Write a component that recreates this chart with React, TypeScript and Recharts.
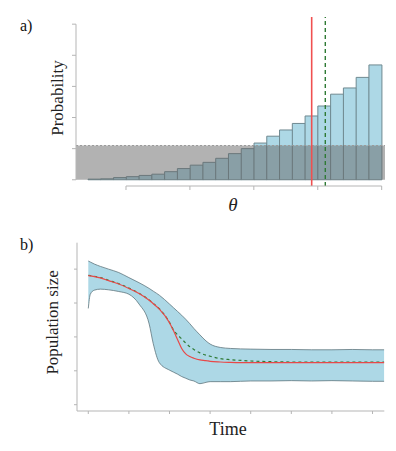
import React from 'react';
import {
  ComposedChart,
  Bar,
  Area,
  Line,
  XAxis,
  YAxis,
  ReferenceLine,
} from 'recharts';

// panel a: posterior histogram of theta
const BINS = ['1', '2', '3', '4', '5', '6', '7', '8', '9', '10', '11', '12', '13', '14', '15', '16', '17', '18', '19', '20', '21', '22', '23'];
const BIN_THETA = [-0.5, -0.3, -0.1, 0.1, 0.3, 0.5, 0.7, 0.9, 1.1, 1.3, 1.5, 1.7, 1.9, 2.1, 2.3, 2.5, 2.7, 2.9, 3.1, 3.3, 3.5, 3.7, 3.9];
const PROB = [0.02, 0.03, 0.07, 0.1, 0.14, 0.18, 0.26, 0.36, 0.47, 0.56, 0.69, 0.84, 1.0, 1.18, 1.4, 1.6, 1.81, 2.05, 2.37, 2.75, 2.95, 3.29, 3.69];
const PRIOR_LEVEL = 1.1;
const THETA_TRUE = 2.905;
const THETA_MEAN = 3.118;
const THETA_TICKS = [0, 1, 2, 3, 4];
const PROB_TICKS = [0, 1, 2, 3, 4, 5];

// panel b: population trajectory
const TIME = [0, 0.05, 0.15, 0.3, 0.5, 0.75, 1.0, 1.25, 1.5, 1.6, 1.75, 2.0, 2.1, 2.2, 2.3, 2.4, 2.5, 2.6, 2.75, 2.9, 3.0, 3.25, 3.5, 4.0, 4.5, 5.0, 5.5, 6.0, 6.5, 7.0, 7.29];
const UPPER = [4.24, 4.21, 4.15, 4.08, 4.0, 3.9, 3.75, 3.6, 3.43, 3.35, 3.23, 2.97, 2.86, 2.75, 2.64, 2.52, 2.39, 2.25, 2.06, 1.88, 1.79, 1.69, 1.66, 1.64, 1.63, 1.63, 1.62, 1.62, 1.63, 1.62, 1.62];
const LOWER = [2.84, 3.26, 3.38, 3.41, 3.39, 3.34, 3.26, 2.97, 2.38, 1.8, 1.24, 1.02, 0.96, 0.9, 0.83, 0.78, 0.73, 0.7, 0.62, 0.66, 0.68, 0.68, 0.68, 0.7, 0.7, 0.71, 0.7, 0.71, 0.7, 0.69, 0.69];
const TRUE_POP = [3.81, 3.8, 3.78, 3.74, 3.66, 3.56, 3.43, 3.28, 3.08, 2.98, 2.82, 2.42, 2.18, 1.92, 1.66, 1.5, 1.42, 1.37, 1.32, 1.3, 1.28, 1.26, 1.25, 1.24, 1.24, 1.24, 1.24, 1.24, 1.24, 1.24, 1.24];
const MEAN_POP = [3.82, 3.81, 3.79, 3.75, 3.67, 3.57, 3.44, 3.29, 3.09, 2.99, 2.83, 2.43, 2.2, 2.06, 1.94, 1.82, 1.71, 1.63, 1.53, 1.46, 1.43, 1.36, 1.33, 1.29, 1.27, 1.26, 1.26, 1.26, 1.26, 1.26, 1.26];
const TIME_TICKS = [0, 1, 2, 3, 4, 5, 6, 7];
const POP_TICKS = [0, 1, 2, 3, 4];

const FONT = '"Liberation Serif", "Times New Roman", serif';
const AXIS = '#b5b5b5';
const THETA_DOMAIN = [-0.782, 4.052];

const histData = BINS.map((b, i) => ({ bin: b, theta: BIN_THETA[i], p: PROB[i] }));
// prior band drawn over the histogram, across the whole theta range
const priorData = THETA_DOMAIN.map((th) => ({ theta: th, prior: PRIOR_LEVEL }));
const popData = TIME.map((t, i) => ({
  t,
  band: [LOWER[i], UPPER[i]],
  truth: TRUE_POP[i],
  mean: MEAN_POP[i],
}));

const noLabel = () => <g />;

const panelLabel: React.CSSProperties = {
  position: 'absolute',
  left: 20,
  fontFamily: FONT,
  fontSize: 16,
  lineHeight: '16px',
  color: '#111',
};

export default function App() {
  return (
    <div style={{ position: 'absolute', left: 0, top: 0, width: 396, height: 451, background: '#fff' }}>
      <div style={{ ...panelLabel, top: 18 }}>a)</div>
      <div style={{ ...panelLabel, top: 237 }}>b)</div>

      <div style={{ position: 'absolute', left: 0, top: 0 }}>
        <ComposedChart width={396} height={220} data={histData} barCategoryGap={0}
          margin={{ top: 17, right: 11, bottom: 0, left: 0 }}>
          <XAxis
            xAxisId="theta"
            dataKey="theta"
            type="number"
            domain={THETA_DOMAIN}
            ticks={THETA_TICKS}
            allowDataOverflow
            height={34}
            tick={noLabel}
            tickSize={4}
            tickLine={{ stroke: AXIS }}
            axisLine={{ stroke: AXIS, strokeDasharray: '0 50 255.7 40' }}
            label={{ value: 'θ', position: 'insideBottom', offset: 9, dx: 2.5, fontFamily: FONT, fontSize: 19, fontStyle: 'italic', fill: '#222' }}
          />
          <XAxis xAxisId="bars" dataKey="bin" type="category" hide height={0} padding={{ left: 12, right: 3.3 }} />
          <YAxis
            type="number"
            domain={[-0.2, 5.23]}
            ticks={PROB_TICKS}
            allowDataOverflow
            width={76}
            tick={noLabel}
            tickSize={4}
            tickLine={{ stroke: AXIS }}
            axisLine={{ stroke: AXIS, strokeDasharray: '0 7.2 155.5 40' }}
            label={{ value: 'Probability', angle: -90, position: 'center', dx: 19, dy: -3.5, fontFamily: FONT, fontSize: 17, fill: '#222' }}
          />
          <Bar xAxisId="bars" dataKey="p" fill="#add8e6" stroke="#6f8990" strokeWidth={1} isAnimationActive={false} zIndex={300} />
          <Area xAxisId="theta" data={priorData} dataKey="prior" type="linear" baseValue={0} zIndex={350}
            fill="#666666" fillOpacity={0.5} stroke="none" dot={false} activeDot={false} isAnimationActive={false} />
          <ReferenceLine xAxisId="theta" y={PRIOR_LEVEL} stroke="#9a9a9a" strokeDasharray="2 2" strokeWidth={1} zIndex={400} />
          <ReferenceLine xAxisId="theta" x={THETA_TRUE} stroke="#f05050" strokeWidth={1.6} zIndex={400} />
          <ReferenceLine xAxisId="theta" x={THETA_MEAN} stroke="#2f7a35" strokeWidth={1.4} strokeDasharray="4 3" zIndex={400} />
        </ComposedChart>
      </div>

      <div style={{ position: 'absolute', left: 0, top: 220 }}>
        <ComposedChart width={396} height={231} data={popData}
          margin={{ top: 22.7, right: 11.7, bottom: 0, left: 0 }}>
          <XAxis
            dataKey="t"
            type="number"
            domain={[-0.278, 7.29]}
            ticks={TIME_TICKS}
            allowDataOverflow
            height={40}
            tick={noLabel}
            tickSize={3}
            tickLine={{ stroke: AXIS }}
            axisLine={{ stroke: AXIS }}
            label={{ value: 'Time', position: 'insideBottom', offset: 16, dx: -2.6, fontFamily: FONT, fontSize: 18, fill: '#222' }}
          />
          <XAxis xAxisId="top" orientation="top" type="number" dataKey="t" domain={[-0.278, 7.29]} height={0} tick={false} tickLine={false} axisLine={{ stroke: AXIS }} />
          <YAxis
            type="number"
            domain={[-0.186, 4.78]}
            ticks={POP_TICKS}
            allowDataOverflow
            width={77}
            tick={noLabel}
            tickSize={3}
            tickLine={{ stroke: AXIS }}
            axisLine={{ stroke: AXIS }}
            label={{ value: 'Population size', angle: -90, position: 'center', dx: 13, dy: -4.4, fontFamily: FONT, fontSize: 17, fill: '#222' }}
          />
          <YAxis yAxisId="right" orientation="right" domain={[-0.186, 4.78]} width={0} tick={false} tickLine={false} axisLine={{ stroke: AXIS }} />
          <Area dataKey="band" type="monotone" fill="#add8e6" fillOpacity={1} stroke="#5f767d" strokeWidth={0.8} isAnimationActive={false} />
          <Line dataKey="mean" type="monotone" stroke="#2f7a35" strokeWidth={1.2} strokeDasharray="3 3" dot={false} isAnimationActive={false} />
          <Line dataKey="truth" type="monotone" stroke="#e84848" strokeWidth={1.2} dot={false} isAnimationActive={false} />
        </ComposedChart>
      </div>
    </div>
  );
}
